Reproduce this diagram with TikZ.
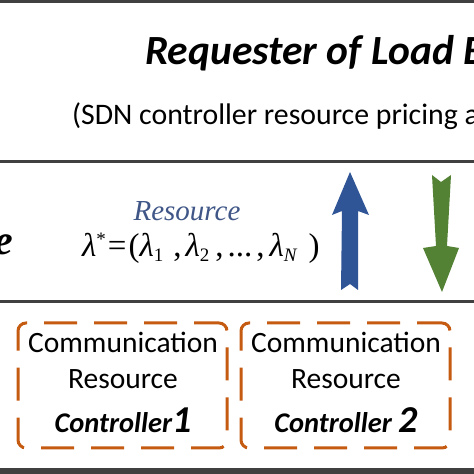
\documentclass[tikz,border=0pt]{standalone}
\usepackage{fontspec}
\setmainfont{Carlito}
\newfontfamily\serifx{Liberation Serif}
\definecolor{rulegray}{RGB}{64,64,64}
\definecolor{arrowblue}{RGB}{47,85,151}
\definecolor{arrowgreen}{RGB}{84,130,53}
\definecolor{boxorange}{RGB}{197,90,17}
\definecolor{resblue}{RGB}{63,86,135}
\newcommand{\subx}[1]{\raisebox{-5pt}{\fontsize{19}{21}\selectfont #1}}
\tikzset{
  sep/.style={draw=rulegray, line width=3.5pt},
  ctrlbox/.style={draw=boxorange, line width=3pt, dash pattern=on 33pt off 17pt, dash phase=8pt, rounded corners=8pt, minimum width=209pt, minimum height=125pt, inner sep=0pt},
  txt/.style={inner sep=0pt, anchor=base},
}
\begin{document}
\begin{tikzpicture}[x=1pt,y=1pt]
\useasboundingbox (0,0) rectangle (474,474);
\fill[white] (0,0) rectangle (474,474);
% separators
\draw[sep] (0,472.5) -- (474,472.5);
\draw[sep] (0,312.5) -- (474,312.5);
\draw[sep] (0,172.5) -- (474,172.5);
\draw[draw=rulegray, line width=6pt] (0,3) -- (474,3);
% title
\node[txt, anchor=base west] (title) at (145,409) {\fontsize{41.5}{48}\selectfont\bfseries\itshape Requester of Load B};
\node[txt, anchor=base west] (sub) at (72,349) {\fontsize{29.8}{35}\selectfont (SDN controller resource pricing a};
% middle band
\node[txt, anchor=base east] (e) at (13,219) {\fontsize{42}{50}\selectfont\serifx\bfseries\itshape e};
\node[txt] (res) at (187,253) {\fontsize{29}{34}\selectfont\serifx\itshape\color{resblue}Resource};
\node[txt, anchor=base west] (lam) at (82,217) {\fontsize{33}{38}\selectfont\serifx
  \textit{λ}\raisebox{11pt}{\fontsize{19}{21}\selectfont *}\hspace{2pt}=\hspace{2pt}(\textit{λ}\subx{1}\hspace{10pt},\hspace{4pt}\textit{λ}\subx{2}\hspace{6pt},\hspace{4pt}...\hspace{4pt},\hspace{5pt}\textit{λ}\subx{\itshape N}\hspace{12pt})};
% arrows
\fill[arrowblue] (350,302) -- (369,259) -- (358,263) -- (358,184) -- (350,190) -- (341,184) -- (342,263) -- (332,259) -- cycle;
\fill[arrowgreen] (432,299) -- (441,292) -- (451,299) -- (447,228) -- (459,226) -- (442,182) -- (423,226) -- (436,228) -- cycle;
% controller boxes
\node[ctrlbox] (box1) at (122.5,88.5) {};
\node[ctrlbox] (box2) at (345.5,88.5) {};
\node[txt] (c1a) at (123,121) {\fontsize{29.5}{34}\selectfont Communication};
\node[txt] (c1b) at (123,85) {\fontsize{29.5}{34}\selectfont Resource};
\node[txt] (c1c) at (123,41) {\bfseries\itshape\fontsize{28.5}{32}\selectfont Controller\fontsize{38}{42}\selectfont 1};
\node[txt] (c2a) at (346,121) {\fontsize{29.5}{34}\selectfont Communication};
\node[txt] (c2b) at (346,85) {\fontsize{29.5}{34}\selectfont Resource};
\node[txt] (c2c) at (346,41) {\bfseries\itshape\fontsize{28.5}{32}\selectfont Controller \fontsize{38}{42}\selectfont 2};
\end{tikzpicture}
\end{document}
